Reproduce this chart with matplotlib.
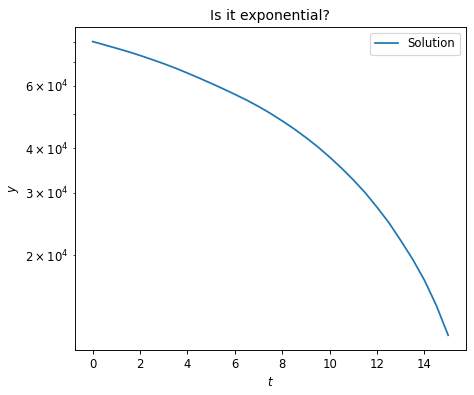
import numpy as np
import matplotlib
matplotlib.use("Agg")
import matplotlib.pyplot as plt

# values (log y axis)
t = [0, 0.5, 1, 1.5, 2, 2.5, 3, 3.5, 4, 4.5, 5, 5.5, 6, 6.5, 7, 7.5,
     8, 8.5, 9, 9.5, 10, 10.5, 11, 11.5, 12, 12.5, 13, 13.5, 14, 14.5, 15]
y = [80000, 78300, 76600, 74900, 73100, 71200, 69300, 67300, 65200,
     63100, 61000, 58900, 56800, 54700, 52500, 50200, 47800, 45400,
     42900, 40400, 37800, 35200, 32600, 30000, 27300, 24700, 22000,
     19500, 17000, 14450, 11900]

fig, ax = plt.subplots(figsize=(474 / 84, 395 / 84), dpi=84)
fig.subplots_adjust(left=0.158, right=0.983, top=0.932, bottom=0.114)

ax.semilogy(t, y, label="Solution")
ax.set_title("Is it exponential?")
ax.set_xlabel("$t$")
ax.set_ylabel("$y$")
ax.legend(loc="upper right")

fig.savefig("out.png", dpi=84)
